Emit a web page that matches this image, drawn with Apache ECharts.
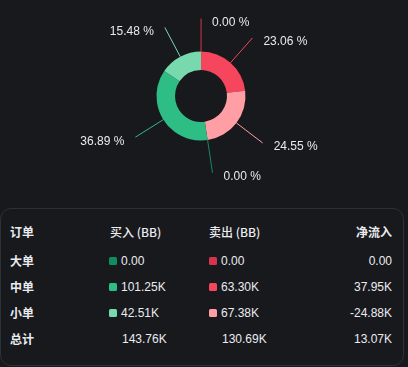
<!DOCTYPE html>
<html>
<head>
<meta charset="utf-8">
<script src="https://cdn.jsdelivr.net/npm/echarts@6/dist/echarts.min.js"></script>
<style>
  html, body { margin: 0; padding: 0; background: #18191d; width: 408px; height: 367px; overflow: hidden; }
  body { font-family: "Liberation Sans", Arial, "Noto Sans CJK SC", sans-serif; color: #eaecef; position: relative; }
  #chart { position: absolute; left: 0; top: 0; width: 408px; height: 205px; }
  #box { position: absolute; left: 0; top: 208px; width: 404px; height: 158px; box-sizing: border-box;
         border: 1px solid #2b3139; border-radius: 11px; }
  .row { position: absolute; left: 0; width: 402px; height: 26px; line-height: 26px; font-size: 12px; }
  .c1 { position: absolute; left: 9px; font-weight: bold; font-family: "Noto Sans CJK SC", sans-serif; }
  .c2 { position: absolute; left: 108px; white-space: nowrap; }
  .c3 { position: absolute; left: 208px; white-space: nowrap; }
  .c4 { position: absolute; right: 11px; white-space: nowrap; }
  .hd { font-family: "Noto Sans CJK SC", sans-serif; font-weight: 500; }
  .sq { display: inline-block; width: 8px; height: 8px; border-radius: 1.5px; margin-right: 4px; vertical-align: -0px; }
  .sp { display: inline-block; width: 13px; }
</style>
</head>
<body>
<div id="chart"></div>
<div id="box"></div>
<script>
// ---- data ----
const headers = ['订单', '买入 (BB)', '卖出 (BB)', '净流入'];
const rowNames = ['大单', '中单', '小单', '总计'];
const buyValues = ['0.00', '101.25K', '42.51K', '143.76K'];
const sellValues = ['0.00', '63.30K', '67.38K', '130.69K'];
const netValues = ['0.00', '37.95K', '-24.88K', '13.07K'];
const buyColors = ['#118c5f', '#2ebd85', '#78d8ae'];
const sellColors = ['#d6344d', '#f6465d', '#ff9ea4'];

// pie slices (clockwise from top): sell large, sell medium, sell small, buy large, buy medium, buy small
const sliceNames = ['卖出 大单', '卖出 中单', '卖出 小单', '买入 大单', '买入 中单', '买入 小单'];
const slicePercents = [0.00, 23.06, 24.55, 0.00, 36.89, 15.48];
const sliceLabels = ['0.00', '23.06', '24.55', '0.00', '36.89', '15.48'];
const sliceColors = [sellColors[0], sellColors[1], sellColors[2], buyColors[0], buyColors[1], buyColors[2]];

// ---- pie ----
const chart = echarts.init(document.getElementById('chart'), null, { renderer: 'canvas' });
chart.setOption({
  backgroundColor: 'transparent',
  animation: false,
  series: [{
    type: 'pie',
    center: [201, 96],
    radius: [26, 44.5],
    startAngle: 89.95,
    clockwise: true,
    avoidLabelOverlap: false,
    data: sliceNames.map((n, i) => ({
      name: n, value: slicePercents[i],
      itemStyle: { color: sliceColors[i] },
      labelLine: { lineStyle: { color: sliceColors[i] } }
    })),
    itemStyle: { borderWidth: 0 },
    label: {
      show: true,
      position: 'outside',
      distanceToLabelLine: 11,
      formatter: p => '{t|' + sliceLabels[p.dataIndex] + ' %}',
      rich: {
        t: {
          color: '#e8eaec',
          fontSize: 12,
          fontFamily: '"Liberation Sans", Arial, sans-serif',
          padding: [8, 0, 0, 0]
        }
      }
    },
    labelLine: { show: true, length: 33, length2: 0, lineStyle: { width: 1 } },
    emphasis: { disabled: true }
  }]
});

// ---- table built from arrays ----
const box = document.getElementById('box');
const rowTops = [10, 39, 65, 91, 117];
function addRow(top, cells) {
  const r = document.createElement('div');
  r.className = 'row';
  r.style.top = top + 'px';
  r.innerHTML = cells;
  box.appendChild(r);
}
addRow(rowTops[0],
  `<span class="c1">${headers[0]}</span><span class="c2 hd" style="left:109px">${headers[1]}</span>` +
  `<span class="c3 hd" style="left:208px">${headers[2]}</span><span class="c4 hd" style="font-weight:bold">${headers[3]}</span>`);
rowNames.forEach((name, i) => {
  const isTotal = i === rowNames.length - 1;
  const b = isTotal ? `<span class="sp"></span>` : `<span class="sq" style="background:${buyColors[i]}"></span>`;
  const s = isTotal ? `<span class="sp"></span>` : `<span class="sq" style="background:${sellColors[i]}"></span>`;
  addRow(rowTops[i + 1],
    `<span class="c1">${name}</span><span class="c2">${b}${buyValues[i]}</span>` +
    `<span class="c3">${s}${sellValues[i]}</span><span class="c4">${netValues[i]}</span>`);
});
</script>
</body>
</html>
